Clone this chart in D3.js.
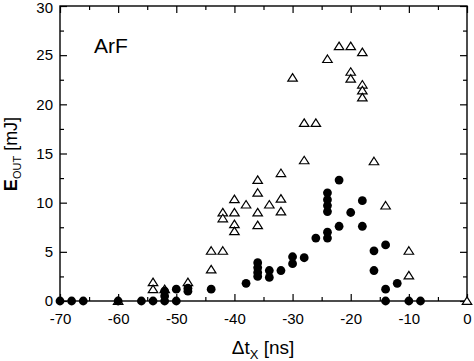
<!DOCTYPE html>
<html>
<head>
<meta charset="utf-8">
<script src="https://cdn.jsdelivr.net/npm/d3@7/dist/d3.min.js"></script>
<style>
  html, body { margin: 0; padding: 0; background: #fff; }
  svg { display: block; font-family: "Liberation Sans", Arial, Helvetica, sans-serif; }
</style>
</head>
<body>
<svg id="chart" width="474" height="361"></svg>
<script>
// Filled circles series: [dt (ns), E (mJ)]
const circleX = [-70, -68, -66, -60, -56, -54, -52, -52, -52, -50, -50, -48, -48, -44, -38,
  -36, -36, -36, -36, -34, -34, -32, -30, -30, -28, -26,
  -24, -24, -24, -24, -24, -24, -22, -22, -20, -18, -18, -16, -16, -14, -14, -14, -12, -10, -8];
const circleY = [0, 0, 0, 0, 0, 0, 0, 0.5, 1.0, 0, 1.2, 1.3, 1.0, 1.2, 1.8,
  3.9, 3.4, 2.9, 2.5, 3.1, 2.4, 3.1, 4.5, 3.8, 4.4, 6.4,
  11.0, 10.3, 9.7, 9.1, 7.0, 6.4, 12.3, 7.6, 9.0, 10.2, 7.6, 5.1, 3.1, 5.7, 1.2, 0, 1.8, 0, 0];

// Open triangles series
const triX = [-60, -54, -54, -52, -48, -44, -44, -42, -42, -42, -40, -40, -40, -40, -38,
  -36, -36, -36, -36, -34, -32, -32, -32, -30, -28, -28, -26, -24, -22, -20, -20, -20,
  -18, -18, -18, -18, -16, -14, -10, -10, 0];
const triY = [0, 1.9, 1.2, 1.2, 1.9, 5.1, 3.2, 5.1, 9.0, 8.4, 10.35, 9.0, 7.8, 7.1, 9.8,
  12.3, 11.0, 9.0, 7.7, 9.8, 13.0, 10.4, 9.1, 22.7, 18.1, 14.3, 18.1, 24.6, 25.9, 25.9, 23.3, 22.6,
  25.3, 22.0, 21.4, 20.7, 14.2, 9.7, 5.1, 2.6, 0];

const xTicks = [-70, -60, -50, -40, -30, -20, -10, 0];
const xMinorTicks = [-65, -55, -45, -35, -25, -15, -5];
const yTicks = [0, 5, 10, 15, 20, 25, 30];
const yMinorTicks = [2.5, 7.5, 12.5, 17.5, 22.5, 27.5];

const svg = d3.select("#chart");
const L = 60, R = 467, T = 6, B = 301;
const x = d3.scaleLinear().domain([-70, 0]).range([L, R]);
const y = d3.scaleLinear().domain([0, 30]).range([B, T]);

const major = 7, minor = 4;
const g = svg.append("g");
const fmt = d => String(d);

function axisStyle(sel) {
  sel.select(".domain").remove();
  sel.selectAll("line").attr("stroke", "#000").attr("stroke-width", 1.2);
}
function textStyle(sel) {
  sel.selectAll("text").attr("font-size", 15).attr("fill", "#000")
    .attr("font-family", "Liberation Sans, Arial, sans-serif");
}
// bottom
g.append("g").attr("transform", `translate(0,${B})`)
  .call(d3.axisBottom(x).tickValues(xTicks).tickSize(-major).tickPadding(12).tickFormat(fmt))
  .call(axisStyle).call(textStyle);
g.append("g").attr("transform", `translate(0,${B})`)
  .call(d3.axisBottom(x).tickValues(xMinorTicks).tickSize(-minor).tickFormat(""))
  .call(axisStyle);
// top
g.append("g").attr("transform", `translate(0,${T})`)
  .call(d3.axisTop(x).tickValues(xTicks).tickSize(-major).tickFormat(""))
  .call(axisStyle);
g.append("g").attr("transform", `translate(0,${T})`)
  .call(d3.axisTop(x).tickValues(xMinorTicks).tickSize(-minor).tickFormat(""))
  .call(axisStyle);
// left
const yAx = g.append("g").attr("transform", `translate(${L},0)`)
  .call(d3.axisLeft(y).tickValues(yTicks).tickSize(-major).tickPadding(7).tickFormat(fmt))
  .call(axisStyle).call(textStyle);
yAx.selectAll(".tick").filter(d => d === 30).select("text").attr("dy", "0.45em");
g.append("g").attr("transform", `translate(${L},0)`)
  .call(d3.axisLeft(y).tickValues(yMinorTicks).tickSize(-minor).tickFormat(""))
  .call(axisStyle);
// right
g.append("g").attr("transform", `translate(${R},0)`)
  .call(d3.axisRight(y).tickValues(yTicks).tickSize(-major).tickFormat(""))
  .call(axisStyle);
g.append("g").attr("transform", `translate(${R},0)`)
  .call(d3.axisRight(y).tickValues(yMinorTicks).tickSize(-minor).tickFormat(""))
  .call(axisStyle);

// frame
svg.append("rect").attr("x", L).attr("y", T).attr("width", R - L).attr("height", B - T)
  .attr("fill", "none").attr("stroke", "#000").attr("stroke-width", 1.4);

// data
const circles = circleX.map((d, i) => ({ x: d, y: circleY[i] }));
const tris = triX.map((d, i) => ({ x: d, y: triY[i] }));

const tw = 9.5, th = 7.5;
const triPath = `M0,${-th * 0.55}L${tw / 2},${th * 0.45}L${-tw / 2},${th * 0.45}Z`;

svg.append("g").selectAll("path").data(tris).join("path")
  .attr("d", triPath)
  .attr("transform", d => `translate(${x(d.x)},${y(d.y)})`)
  .attr("fill", "#fff").attr("stroke", "#000").attr("stroke-width", 1.2);

svg.append("g").selectAll("circle").data(circles).join("circle")
  .attr("cx", d => x(d.x)).attr("cy", d => y(d.y)).attr("r", 4.4)
  .attr("fill", "#000");

// label
svg.append("text").attr("x", 94).attr("y", 53).attr("font-size", 21).text("ArF");

// x title
const xt = svg.append("text").attr("x", 263).attr("y", 354).attr("text-anchor", "middle").attr("font-size", 19);
xt.append("tspan").text("Δt");
xt.append("tspan").attr("font-size", 13).attr("dy", 5).text("X");
xt.append("tspan").attr("dy", -5).text(" [ns]");

// y title
const yt = svg.append("text").attr("transform", `translate(17,154) rotate(-90)`)
  .attr("text-anchor", "middle").attr("font-size", 18);
yt.append("tspan").attr("font-weight", "bold").text("E");
yt.append("tspan").attr("font-size", 11).attr("dy", 4).text("OUT");
yt.append("tspan").attr("dy", -4).text(" [mJ]");
</script>
</body>
</html>
